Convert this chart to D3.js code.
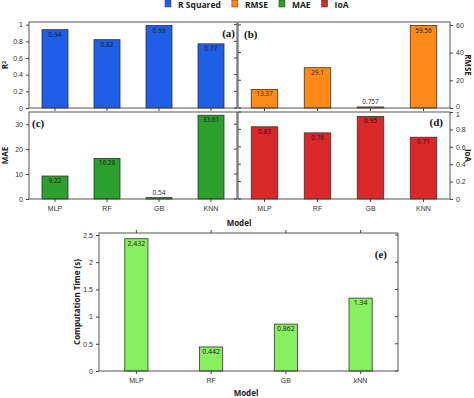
<!DOCTYPE html>
<html>
<head>
<meta charset="utf-8">
<script src="https://cdn.jsdelivr.net/npm/d3@7"></script>
<style>
  body { margin: 0; background: #fff; }
  svg { display: block; font-family: "Open Sans", sans-serif; }
</style>
</head>
<body>
<svg id="chart"></svg>
<script>
const width = 474;
const height = 398;

// data
const models = ["MLP", "RF", "GB", "KNN"];
const modelsE = ["MLP", "RF", "GB", "kNN"];
const rSquared = [0.94, 0.82, 0.99, 0.77];
const rmse = [13.37, 29.1, 0.757, 59.56];
const mae = [9.22, 16.28, 0.54, 33.61];
const ioa = [0.83, 0.76, 0.95, 0.71];
const compTime = [2.432, 0.442, 0.862, 1.34];

const rSquaredLabels = ["0.94", "0.82", "0.99", "0.77"];
const rmseLabels = ["13.37", "29.1", "0.757", "59.56"];
const maeLabels = ["9.22", "16.28", "0.54", "33.61"];
const ioaLabels = ["0.83", "0.76", "0.95", "0.71"];
const timeLabels = ["2.432", "0.442", "0.862", "1.34"];

const legendNames = ["R Squared", "RMSE", "MAE", "IoA"];
const legendColors = ["#1f5ee6", "#ff8a17", "#2ca02c", "#d8282a"];

const svg = d3.select("#chart")
  .attr("width", width)
  .attr("height", height);

function panel(opt) {
  const g = svg.append("g");
  const x = d3.scaleBand()
    .domain(opt.cats)
    .range([opt.x0, opt.x1])
    .paddingInner(opt.pad)
    .paddingOuter(opt.pad / 2);
  const y = d3.scaleLinear()
    .domain([0, opt.ymax])
    .range([opt.y1, opt.y0]);

  // bars
  g.selectAll("rect.bar")
    .data(opt.values)
    .join("rect")
    .attr("class", "bar")
    .attr("x", (d, i) => x(opt.cats[i]))
    .attr("y", (d) => y(d))
    .attr("width", x.bandwidth())
    .attr("height", (d) => opt.y1 - y(d))
    .style("fill", opt.color)
    .style("stroke", "#333")
    .style("stroke-width", 0.8);

  // value labels
  g.selectAll("text.val")
    .data(opt.values)
    .join("text")
    .attr("class", "val")
    .attr("x", (d, i) => x(opt.cats[i]) + x.bandwidth() / 2)
    .attr("y", (d) => (opt.y1 - y(d) > 10 ? y(d) + 7 : y(d) - 3))
    .attr("text-anchor", "middle")
    .attr("font-size", opt.valSize || "6.5px")
    .attr("fill", "#1a1a1a")
    .text((d, i) => opt.labels[i]);

  // y axis
  const yAxis = opt.right
    ? d3.axisRight(y).tickValues(opt.ticks).tickSize(3).tickFormat(d3.format("~g"))
    : d3.axisLeft(y).tickValues(opt.ticks).tickSize(3).tickFormat(d3.format("~g"));
  const ya = g.append("g")
    .attr("transform", `translate(${opt.right ? opt.x1 : opt.x0},0)`)
    .call(yAxis);
  ya.select(".domain").remove();
  ya.selectAll("text").attr("font-size", "7px").attr("fill", "#333");
  ya.selectAll("line").attr("stroke", "#444");
  // nudge the end labels that sit on a shared edge
  if (opt.nudgeBottom) {
    ya.selectAll(".tick").filter((d) => d === 0).select("text").attr("y", -2);
  }
  if (opt.nudgeTop) {
    ya.selectAll(".tick").filter((d) => d === opt.ticks[opt.ticks.length - 1]).select("text").attr("y", 2);
  }

  // mirrored small ticks on the other side
  g.selectAll("line.mt")
    .data(opt.ticks)
    .join("line")
    .attr("class", "mt")
    .attr("x1", opt.right ? opt.x0 : opt.x1)
    .attr("x2", opt.right ? opt.x0 + 3 : opt.x1 - 3)
    .attr("y1", (d) => y(d))
    .attr("y2", (d) => y(d))
    .attr("stroke", "#444");

  // x axis
  const xa = g.append("g")
    .attr("transform", `translate(0,${opt.y1})`)
    .call(d3.axisBottom(x).tickSize(3).tickFormat(opt.showX ? null : ""));
  xa.select(".domain").remove();
  xa.selectAll("text").attr("font-size", "7px").attr("fill", "#333").attr("dy", "0.9em");
  xa.selectAll("line").attr("stroke", "#444");

  if (opt.topTicks) {
    g.selectAll("line.tt")
      .data(opt.cats)
      .join("line")
      .attr("class", "tt")
      .attr("x1", (d) => x(d) + x.bandwidth() / 2)
      .attr("x2", (d) => x(d) + x.bandwidth() / 2)
      .attr("y1", opt.y0)
      .attr("y2", opt.y0 - 3)
      .attr("stroke", "#444");
  }

  // frame
  g.append("rect")
    .attr("x", opt.x0)
    .attr("y", opt.y0)
    .attr("width", opt.x1 - opt.x0)
    .attr("height", opt.y1 - opt.y0)
    .style("fill", "none")
    .style("stroke", "#444")
    .style("stroke-width", 0.9);

  // panel tag
  g.append("text")
    .attr("x", opt.tagX)
    .attr("y", opt.tagY)
    .attr("text-anchor", opt.tagAnchor || "start")
    .attr("font-family", "'Liberation Serif', serif")
    .attr("font-weight", "bold")
    .attr("font-size", "11px")
    .attr("fill", "#111")
    .text(opt.tag);

  // y title
  const ty = (opt.y0 + opt.y1) / 2;
  g.append("text")
    .attr("transform", `translate(${opt.titleX},${ty}) rotate(${opt.right ? 90 : -90})`)
    .attr("text-anchor", "middle")
    .attr("font-weight", "bold")
    .attr("font-size", opt.titleSize || "8px")
    .attr("fill", "#222")
    .text(opt.title);

  return g;
}

panel({ cats: models, values: rSquared, labels: rSquaredLabels, color: legendColors[0],
  x0: 29, x1: 237, y0: 22, y1: 108, ymax: 1.032, pad: 0.5,
  ticks: [0, 0.2, 0.4, 0.6, 0.8, 1], tag: "(a)", tagX: 235, tagY: 37, tagAnchor: "end",
  title: "", titleX: 7 });

panel({ cats: models, values: rmse, labels: rmseLabels, color: legendColors[1],
  x0: 238, x1: 450, y0: 22, y1: 108, ymax: 62.1, pad: 0.5, right: true, nudgeBottom: true,
  ticks: [0, 20, 40, 60], tag: "(b)", tagX: 244, tagY: 38,
  title: "RMSE", titleX: 465 });

panel({ cats: models, values: mae, labels: maeLabels, color: legendColors[2],
  x0: 29, x1: 237, y0: 112, y1: 199, ymax: 34.9, pad: 0.5, showX: true,
  ticks: [0, 10, 20, 30], tag: "(c)", tagX: 32, tagY: 127,
  title: "MAE", titleX: 8 });

panel({ cats: models, values: ioa, labels: ioaLabels, color: legendColors[3],
  x0: 238, x1: 450, y0: 112, y1: 199, ymax: 1.0, pad: 0.5, right: true, showX: true, nudgeTop: true,
  ticks: [0, 0.2, 0.4, 0.6, 0.8, 1], tag: "(d)", tagX: 443, tagY: 126, tagAnchor: "end",
  title: "IoA", titleX: 465 });

panel({ cats: modelsE, values: compTime, labels: timeLabels, color: "#88f060",
  x0: 99, x1: 398, y0: 233, y1: 371, ymax: 2.537, pad: 0.69, showX: true, topTicks: true,
  ticks: [0, 0.5, 1, 1.5, 2, 2.5], tag: "(e)", tagX: 387, tagY: 258, tagAnchor: "end",
  title: "Computation Time (s)", titleX: 80, valSize: "7px" });

// R² title with superscript
svg.append("text")
  .attr("transform", "translate(8,65) rotate(-90)")
  .attr("text-anchor", "middle")
  .attr("font-weight", "bold")
  .attr("font-size", "8px")
  .attr("fill", "#222")
  .text("R")
  .append("tspan")
  .attr("dy", "-0.4em")
  .attr("font-size", "5.5px")
  .text("2");

// x titles
svg.append("text")
  .attr("x", 239).attr("y", 226)
  .attr("text-anchor", "middle")
  .attr("font-weight", "bold").attr("font-size", "8px").attr("fill", "#222")
  .text("Model");
svg.append("text")
  .attr("x", 246).attr("y", 396)
  .attr("text-anchor", "middle")
  .attr("font-weight", "bold").attr("font-size", "8px").attr("fill", "#222")
  .text("Model");

// legend
const legend = svg.append("g");
let lx = 165;
legendNames.forEach((name, i) => {
  legend.append("rect")
    .attr("x", lx).attr("y", 0)
    .attr("width", 6).attr("height", 7)
    .style("fill", legendColors[i])
    .style("stroke", "#333").style("stroke-width", 0.5);
  const t = legend.append("text")
    .attr("x", lx + 13).attr("y", 8)
    .attr("font-weight", "bold")
    .attr("font-size", "8.5px")
    .attr("fill", "#222")
    .text(name);
  lx += 13 + t.node().getComputedTextLength() + 11;
});
</script>
</body>
</html>
